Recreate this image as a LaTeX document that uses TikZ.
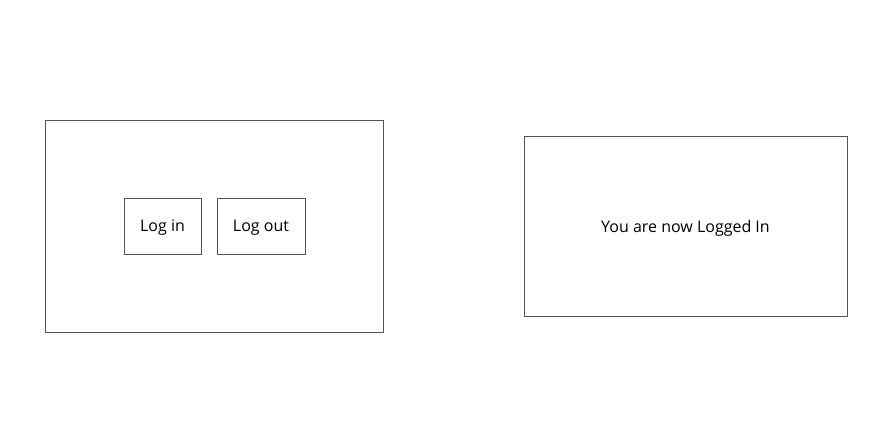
\documentclass[tikz,border=0pt]{standalone}
\usepackage{fontspec}
\setmainfont{Open Sans}
\usepackage{xcolor}
\usetikzlibrary{positioning}
\definecolor{edgegray}{HTML}{555555}
\tikzset{panel/.style={draw=edgegray, line width=0.8pt, inner sep=0pt},
         btn/.style={panel, text depth=0pt, font=\fontsize{16}{19}\selectfont}}

\begin{document}
\begin{tikzpicture}[x=1pt,y=-1pt]
\useasboundingbox (0,0) rectangle (895,439);
\node[panel, minimum width=338pt, minimum height=212pt] (screen) at (214,226) {};
\node[btn, minimum width=77pt, minimum height=56pt] (login) at (162.5,226) {Log in};
\node[btn, minimum width=88pt, minimum height=56pt] (logout) at (261,226) {Log out};
\node[btn, minimum width=323pt, minimum height=180pt] (status) at (685.5,226) {You are now Logged In};
\end{tikzpicture}
\end{document}
